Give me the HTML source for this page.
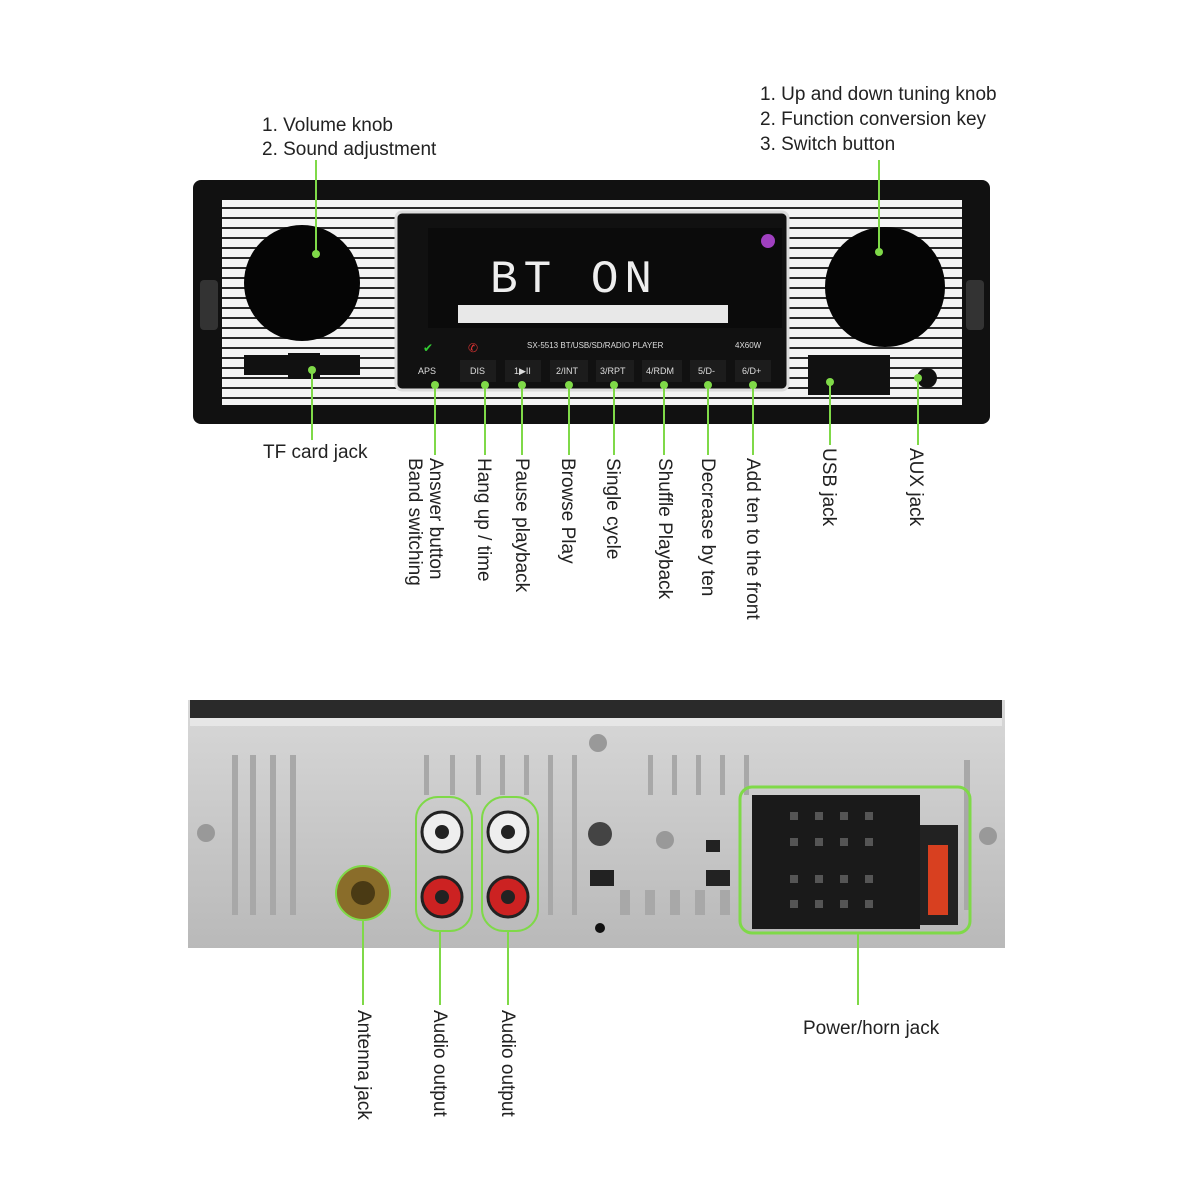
<!DOCTYPE html>
<html><head><meta charset="utf-8"><style>
html,body{margin:0;padding:0;background:#fff}
svg{display:block}
text{font-family:"Liberation Sans",sans-serif;font-size:19px;fill:#222}
text.s{font-size:9px;fill:#ddd}
</style></head><body>
<svg width="1200" height="1200" viewBox="0 0 1200 1200" xmlns="http://www.w3.org/2000/svg">
<defs>
<pattern id="stripes" width="10" height="10" patternUnits="userSpaceOnUse">
<rect width="10" height="10" fill="#f4f4f4"/><rect y="7" width="10" height="2" fill="#2a2a2a"/>
</pattern>
<linearGradient id="metal" x1="0" y1="0" x2="0" y2="1"><stop offset="0" stop-color="#d8d8d8"/><stop offset="1" stop-color="#b9b9b9"/></linearGradient>
</defs>
<rect x="193" y="180" width="797" height="244" rx="8" fill="#111"/>
<rect x="222" y="200" width="740" height="205" fill="url(#stripes)"/>
<rect x="200" y="280" width="18" height="50" rx="4" fill="#333"/>
<rect x="966" y="280" width="18" height="50" rx="4" fill="#333"/>
<rect x="396" y="212" width="392" height="178" rx="6" fill="#111" stroke="#ddd" stroke-width="3"/>
<rect x="428" y="228" width="354" height="100" fill="#0b0b0b"/>
<rect x="458" y="305" width="270" height="18" fill="#e8e8e8"/>
<text x="490" y="292" style="font-size:46px;fill:#eee;font-family:'Liberation Mono',monospace;letter-spacing:6px">BT ON</text>
<circle cx="768" cy="241" r="7" fill="#a040c0"/>
<text class="s" x="527" y="348" style="font-size:8px">SX-5513  BT/USB/SD/RADIO PLAYER</text>
<text class="s" x="735" y="348" style="font-size:8px">4X60W</text>
<g fill="#1c1c1c">
<rect x="460" y="360" width="36" height="22"/><rect x="505" y="360" width="36" height="22"/><rect x="550" y="360" width="38" height="22"/>
<rect x="596" y="360" width="38" height="22"/><rect x="642" y="360" width="40" height="22"/><rect x="690" y="360" width="36" height="22"/><rect x="735" y="360" width="36" height="22"/>
</g>
<text class="s" x="470" y="374">DIS</text><text class="s" x="514" y="374">1▶II</text><text class="s" x="556" y="374">2/INT</text>
<text class="s" x="600" y="374">3/RPT</text><text class="s" x="646" y="374">4/RDM</text><text class="s" x="698" y="374">5/D-</text><text class="s" x="742" y="374">6/D+</text>
<text class="s" x="418" y="374">APS</text>
<text class="s" x="468" y="352" style="fill:#d33;font-size:12px">✆</text><text class="s" x="423" y="352" style="fill:#3c3;font-size:12px">✔</text>
<circle cx="302" cy="283" r="58" fill="#050505"/>
<circle cx="885" cy="287" r="60" fill="#050505"/>
<rect x="244" y="355" width="116" height="20" fill="#111"/>
<rect x="288" y="353" width="32" height="26" fill="#111"/>
<rect x="808" y="355" width="82" height="40" fill="#111"/>
<circle cx="927" cy="378" r="10" fill="#111"/>
<g stroke="#7fd948" stroke-width="2" fill="none">
<line x1="316" y1="160" x2="316" y2="254"/>
<line x1="879" y1="160" x2="879" y2="252"/>
<line x1="312" y1="370" x2="312" y2="440"/>
<line x1="435" y1="385" x2="435" y2="455"/><line x1="485" y1="385" x2="485" y2="455"/>
<line x1="522" y1="385" x2="522" y2="455"/><line x1="569" y1="385" x2="569" y2="455"/>
<line x1="614" y1="385" x2="614" y2="455"/><line x1="664" y1="385" x2="664" y2="455"/>
<line x1="708" y1="385" x2="708" y2="455"/><line x1="753" y1="385" x2="753" y2="455"/>
<line x1="830" y1="382" x2="830" y2="445"/><line x1="918" y1="382" x2="918" y2="445"/>
</g>
<g fill="#7fd948">
<circle cx="316" cy="254" r="4"/><circle cx="879" cy="252" r="4"/><circle cx="312" cy="370" r="4"/>
<circle cx="435" cy="385" r="4"/><circle cx="485" cy="385" r="4"/><circle cx="522" cy="385" r="4"/>
<circle cx="569" cy="385" r="4"/><circle cx="614" cy="385" r="4"/><circle cx="664" cy="385" r="4"/>
<circle cx="708" cy="385" r="4"/><circle cx="753" cy="385" r="4"/><circle cx="830" cy="382" r="4"/><circle cx="918" cy="378" r="4"/>
</g>
<text x="262" y="131">1. Volume knob</text>
<text x="262" y="155">2. Sound adjustment</text>
<text x="760" y="100">1. Up and down tuning knob</text>
<text x="760" y="125">2. Function conversion key</text>
<text x="760" y="150">3. Switch button</text>
<text x="263" y="458">TF card jack</text>
<text transform="translate(430,458) rotate(90)">Answer button</text>
<text transform="translate(409,458) rotate(90)">Band switching</text>
<text transform="translate(478,458) rotate(90)">Hang up / time</text>
<text transform="translate(516,458) rotate(90)">Pause playback</text>
<text transform="translate(562,458) rotate(90)">Browse Play</text>
<text transform="translate(607,458) rotate(90)">Single cycle</text>
<text transform="translate(659,458) rotate(90)">Shuffle Playback</text>
<text transform="translate(702,458) rotate(90)">Decrease by ten</text>
<text transform="translate(747,458) rotate(90)">Add ten to the front</text>
<text transform="translate(823,448) rotate(90)">USB jack</text>
<text transform="translate(910,448) rotate(90)">AUX jack</text>
<rect x="188" y="700" width="817" height="248" fill="url(#metal)"/>
<rect x="190" y="700" width="812" height="20" fill="#2a2a2a"/>
<rect x="190" y="718" width="812" height="8" fill="#e6e6e6"/>
<g fill="#a8a8a8">
<rect x="232" y="755" width="6" height="160"/><rect x="250" y="755" width="6" height="160"/>
<rect x="270" y="755" width="6" height="160"/><rect x="290" y="755" width="6" height="160"/>
<rect x="424" y="755" width="5" height="40"/><rect x="450" y="755" width="5" height="40"/>
<rect x="476" y="755" width="5" height="40"/><rect x="500" y="755" width="5" height="40"/>
<rect x="524" y="755" width="5" height="40"/><rect x="548" y="755" width="5" height="160"/>
<rect x="572" y="755" width="5" height="160"/><rect x="648" y="755" width="5" height="40"/>
<rect x="672" y="755" width="5" height="40"/><rect x="696" y="755" width="5" height="40"/>
<rect x="720" y="755" width="5" height="40"/><rect x="744" y="755" width="5" height="40"/>
<rect x="620" y="890" width="10" height="25"/><rect x="645" y="890" width="10" height="25"/>
<rect x="670" y="890" width="10" height="25"/><rect x="695" y="890" width="10" height="25"/>
<rect x="720" y="890" width="10" height="25"/><rect x="964" y="760" width="6" height="150"/>
</g>
<circle cx="206" cy="833" r="9" fill="#999"/><circle cx="988" cy="836" r="9" fill="#999"/>
<circle cx="598" cy="743" r="9" fill="#999"/><circle cx="665" cy="840" r="9" fill="#999"/>
<circle cx="600" cy="834" r="12" fill="#444"/>
<rect x="590" y="870" width="24" height="16" fill="#222"/><rect x="706" y="840" width="14" height="12" fill="#222"/>
<rect x="706" y="870" width="24" height="16" fill="#222"/>
<circle cx="600" cy="928" r="5" fill="#111"/>
<circle cx="363" cy="893" r="27" fill="#8a6d2a" stroke="#7fd948" stroke-width="2"/>
<circle cx="363" cy="893" r="12" fill="#4a3a14"/>
<rect x="416" y="797" width="56" height="134" rx="22" fill="none" stroke="#7fd948" stroke-width="2"/>
<rect x="482" y="797" width="56" height="134" rx="22" fill="none" stroke="#7fd948" stroke-width="2"/>
<circle cx="442" cy="832" r="20" fill="#eee" stroke="#222" stroke-width="3"/><circle cx="442" cy="832" r="7" fill="#222"/>
<circle cx="508" cy="832" r="20" fill="#eee" stroke="#222" stroke-width="3"/><circle cx="508" cy="832" r="7" fill="#222"/>
<circle cx="442" cy="897" r="20" fill="#c22" stroke="#222" stroke-width="3"/><circle cx="442" cy="897" r="7" fill="#222"/>
<circle cx="508" cy="897" r="20" fill="#c22" stroke="#222" stroke-width="3"/><circle cx="508" cy="897" r="7" fill="#222"/>
<rect x="740" y="787" width="230" height="146" rx="12" fill="none" stroke="#7fd948" stroke-width="3"/>
<rect x="752" y="795" width="168" height="134" fill="#1a1a1a"/>
<rect x="920" y="825" width="38" height="100" fill="#222"/>
<rect x="928" y="845" width="20" height="70" fill="#d84020"/>
<g fill="#555"><rect x="790" y="812" width="8" height="8"/><rect x="815" y="812" width="8" height="8"/><rect x="840" y="812" width="8" height="8"/><rect x="865" y="812" width="8" height="8"/>
<rect x="790" y="838" width="8" height="8"/><rect x="815" y="838" width="8" height="8"/><rect x="840" y="838" width="8" height="8"/><rect x="865" y="838" width="8" height="8"/>
<rect x="790" y="875" width="8" height="8"/><rect x="815" y="875" width="8" height="8"/><rect x="840" y="875" width="8" height="8"/><rect x="865" y="875" width="8" height="8"/>
<rect x="790" y="900" width="8" height="8"/><rect x="815" y="900" width="8" height="8"/><rect x="840" y="900" width="8" height="8"/><rect x="865" y="900" width="8" height="8"/></g>
<g stroke="#7fd948" stroke-width="2">
<line x1="363" y1="920" x2="363" y2="1005"/><line x1="440" y1="931" x2="440" y2="1005"/>
<line x1="508" y1="931" x2="508" y2="1005"/><line x1="858" y1="933" x2="858" y2="1005"/>
</g>
<text transform="translate(358,1010) rotate(90)">Antenna jack</text>
<text transform="translate(434,1010) rotate(90)">Audio output</text>
<text transform="translate(502,1010) rotate(90)">Audio output</text>
<text x="803" y="1034">Power/horn jack</text>
</svg>
</body></html>
